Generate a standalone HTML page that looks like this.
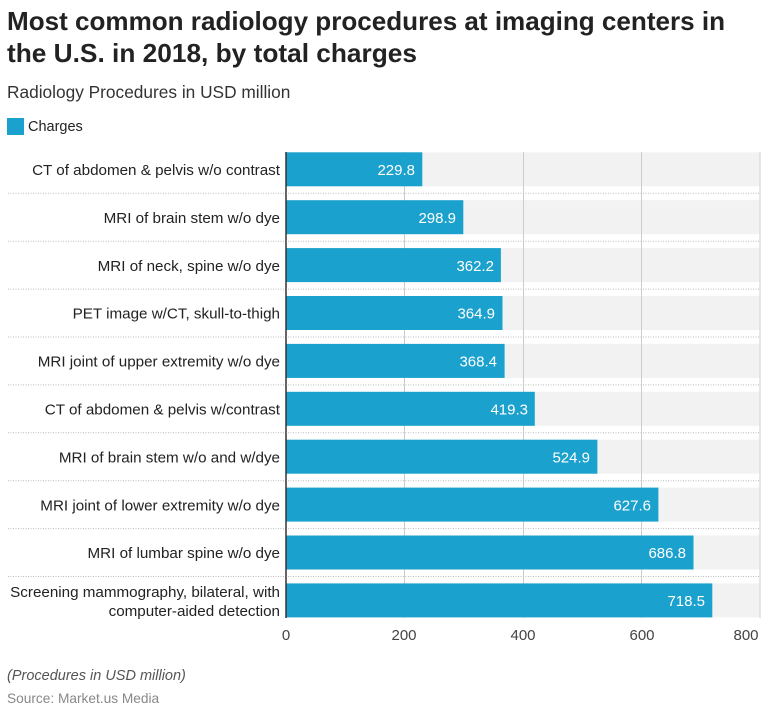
<!DOCTYPE html>
<html><head><style>
body{margin:0;background:#fff;width:767px;height:714px;overflow:hidden;font-family:"Liberation Sans",Arial,sans-serif;}
</style></head><body>
<svg width="767" height="714" xmlns="http://www.w3.org/2000/svg" font-family="Liberation Sans, Arial, sans-serif">
<text x="7" y="30" font-size="26" font-weight="bold" fill="#222" textLength="718" lengthAdjust="spacingAndGlyphs">Most common radiology procedures at imaging centers in</text>
<text x="7" y="62" font-size="26" font-weight="bold" fill="#222" textLength="410" lengthAdjust="spacingAndGlyphs">the U.S. in 2018, by total charges</text>
<text x="7" y="98" font-size="17.3" fill="#333">Radiology Procedures in USD million</text>
<rect x="7" y="118" width="17" height="17" fill="#1ba1cd"/>
<text x="28" y="131" font-size="14.5" fill="#222">Charges</text>
<g id="bands" fill="#f2f2f2">
<rect x="286" y="152.3" width="474" height="34"/><rect x="286" y="200.2" width="474" height="34"/>
<rect x="286" y="248.1" width="474" height="34"/><rect x="286" y="296" width="474" height="34"/>
<rect x="286" y="343.9" width="474" height="34"/><rect x="286" y="391.8" width="474" height="34"/>
<rect x="286" y="439.7" width="474" height="34"/><rect x="286" y="487.6" width="474" height="34"/>
<rect x="286" y="535.5" width="474" height="34"/><rect x="286" y="583.4" width="474" height="34"/>
</g>
<line x1="760" y1="152" x2="760" y2="618" stroke="#ddd" stroke-width="1.5"/>
<g stroke="#ccc" stroke-width="1"><line x1="404.5" y1="152" x2="404.5" y2="618"/><line x1="523.5" y1="152" x2="523.5" y2="618"/><line x1="641.5" y1="152" x2="641.5" y2="618"/></g>
<g stroke="#bbb" stroke-dasharray="1,1.5"><line x1="8" y1="193.3" x2="760" y2="193.3"/><line x1="8" y1="241.2" x2="760" y2="241.2"/><line x1="8" y1="289.1" x2="760" y2="289.1"/><line x1="8" y1="337" x2="760" y2="337"/><line x1="8" y1="384.9" x2="760" y2="384.9"/><line x1="8" y1="432.8" x2="760" y2="432.8"/><line x1="8" y1="480.7" x2="760" y2="480.7"/><line x1="8" y1="528.6" x2="760" y2="528.6"/><line x1="8" y1="576.5" x2="760" y2="576.5"/></g>
<g fill="#1ba1cd">
<rect x="286" y="152.3" width="136.3" height="34"/><rect x="286" y="200.2" width="177.3" height="34"/>
<rect x="286" y="248.1" width="214.9" height="34"/><rect x="286" y="296" width="216.5" height="34"/>
<rect x="286" y="343.9" width="218.6" height="34"/><rect x="286" y="391.8" width="248.8" height="34"/>
<rect x="286" y="439.7" width="311.4" height="34"/><rect x="286" y="487.6" width="372.4" height="34"/>
<rect x="286" y="535.5" width="407.5" height="34"/><rect x="286" y="583.4" width="426.3" height="34"/>
</g>
<line x1="286" y1="152" x2="286" y2="618" stroke="#333" stroke-width="1.5"/>
<g font-size="15" fill="#fff" text-anchor="end">
<text x="415" y="175">229.8</text><text x="456" y="222.9">298.9</text><text x="494" y="270.8">362.2</text>
<text x="495" y="318.7">364.9</text><text x="497" y="366.6">368.4</text><text x="528" y="414.5">419.3</text>
<text x="590" y="462.4">524.9</text><text x="651" y="510.3">627.6</text><text x="686" y="558.2">686.8</text>
<text x="705" y="606.1">718.5</text>
</g>
<g font-size="15.2" fill="#222" text-anchor="end">
<text x="280" y="175">CT of abdomen &amp; pelvis w/o contrast</text>
<text x="280" y="222.9">MRI of brain stem w/o dye</text>
<text x="280" y="270.8">MRI of neck, spine w/o dye</text>
<text x="280" y="318.7">PET image w/CT, skull-to-thigh</text>
<text x="280" y="366.6">MRI joint of upper extremity w/o dye</text>
<text x="280" y="414.5">CT of abdomen &amp; pelvis w/contrast</text>
<text x="280" y="462.4">MRI of brain stem w/o and w/dye</text>
<text x="280" y="510.3">MRI joint of lower extremity w/o dye</text>
<text x="280" y="558.2">MRI of lumbar spine w/o dye</text>
<text x="280" y="597">Screening mammography, bilateral, with</text>
<text x="280" y="616">computer-aided detection</text>
</g>
<g font-size="15" fill="#444" text-anchor="middle">
<text x="286" y="640">0</text><text x="404" y="640">200</text><text x="523" y="640">400</text><text x="642" y="640">600</text><text x="746" y="640">800</text>
</g>
<text x="7" y="680" font-size="14.5" font-style="italic" fill="#555">(Procedures in USD million)</text>
<text x="7" y="703" font-size="13.7" fill="#888">Source: Market.us Media</text>
</svg>
</body></html>
